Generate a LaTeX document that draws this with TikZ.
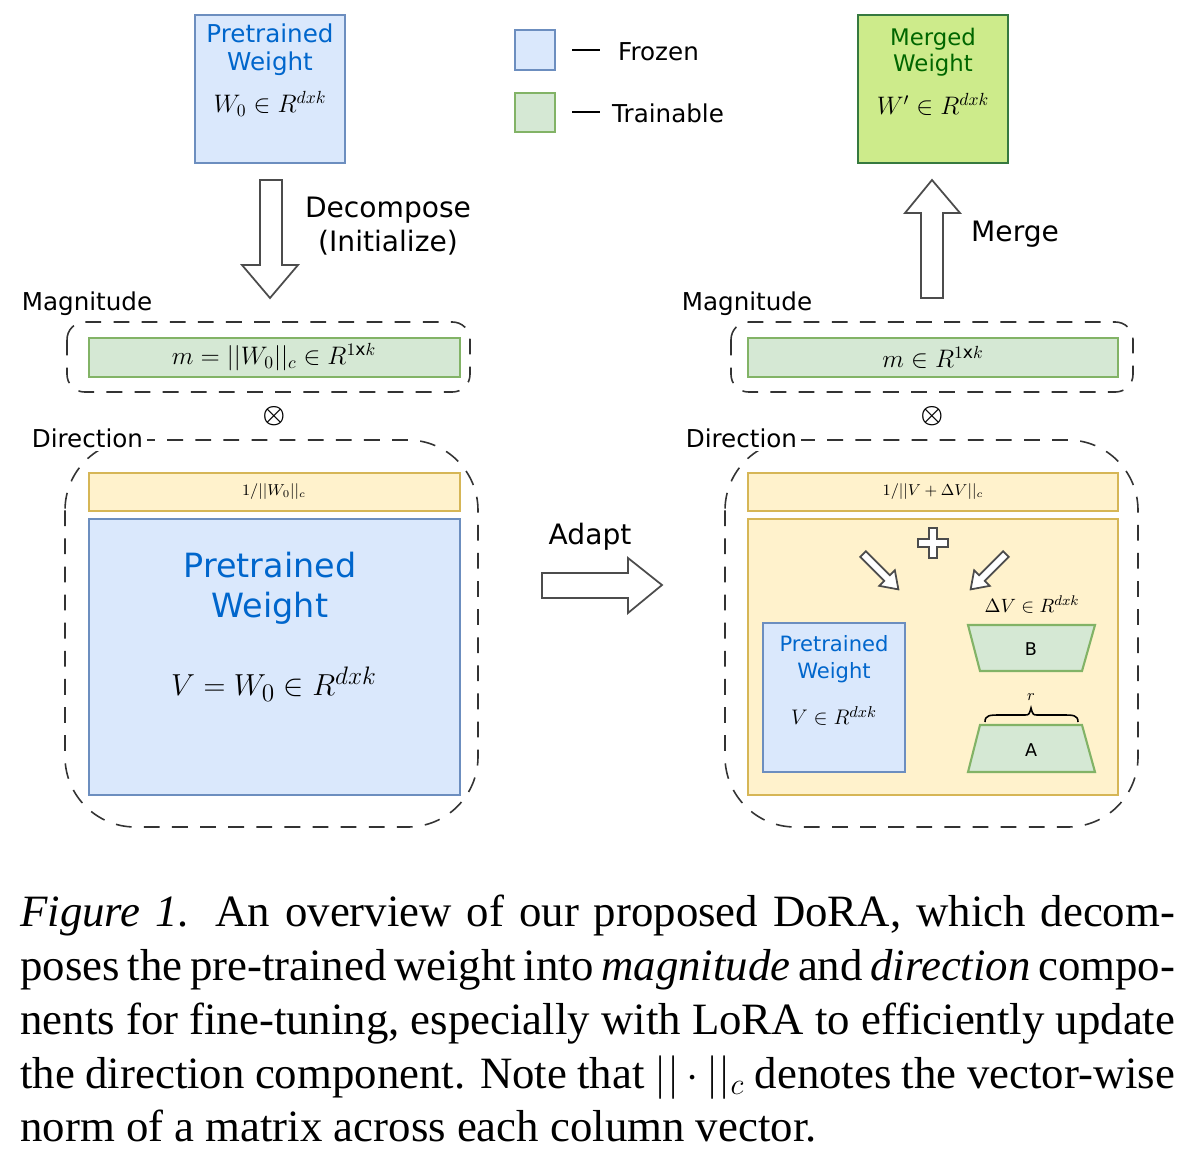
\documentclass[tikz,border=0pt]{standalone}
\usepackage{fontspec,amsmath}
\setmainfont{DejaVu Sans}
\newfontfamily\capfont{Liberation Serif}
\usetikzlibrary{positioning,calc}

\definecolor{frozenfill}{HTML}{DAE8FC}
\definecolor{frozenline}{HTML}{6C8EBF}
\definecolor{trainfill}{HTML}{D5E8D4}
\definecolor{trainline}{HTML}{82B366}
\definecolor{normfill}{HTML}{FFF2CC}
\definecolor{normline}{HTML}{D6B656}
\definecolor{mergefill}{HTML}{CDEB8B}
\definecolor{mergeline}{HTML}{36793F}
\definecolor{bluetext}{HTML}{0066CC}
\definecolor{greentext}{HTML}{006600}

\tikzset{
  frozen/.style={draw=frozenline,fill=frozenfill,line width=1.2pt},
  trainable/.style={draw=trainline,fill=trainfill,line width=1.2pt},
  normbox/.style={draw=normline,fill=normfill,line width=1.2pt},
  group/.style={draw=black!80,dashed,dash pattern=on 9pt off 7pt,line width=0.9pt},
  blockarrow/.style={draw=black!70,fill=white,line width=1pt,line join=miter},
  lbl/.style={fill=white,inner sep=2pt,font=\fontsize{14}{16}\selectfont},
}

\begin{document}
\begin{tikzpicture}[x=0.02cm,y=-0.02cm]
  \useasboundingbox (0,0) rectangle (1196,1174);

  % top row
  \draw[frozen] (195,15) rectangle (345,163);
  \node[align=center,text=bluetext,font=\fontsize{14}{16}\selectfont] (pw) at (270,50) {Pretrained\\Weight};
  \node[font=\fontsize{14}{16}\selectfont] (w0) at (270,104) {$W_0\in R^{dxk}$};

  \draw[frozen] (515,30) rectangle (555,70);
  \draw[trainable] (515,93) rectangle (555,132);
  \draw[line width=1.6pt] (572,50) -- (600,50);
  \draw[line width=1.6pt] (572,112) -- (600,112);
  \node[anchor=west,font=\fontsize{14}{16}\selectfont] (frz) at (612,52) {Frozen};
  \node[anchor=west,font=\fontsize{14}{16}\selectfont] (trn) at (606,113) {Trainable};

  \draw[line width=1.2pt,draw=mergeline,fill=mergefill] (858,15) rectangle (1008,163);
  \node[align=center,text=greentext,font=\fontsize{13}{15}\selectfont] (mw) at (933,52) {Merged\\Weight};
  \node[font=\fontsize{14}{16}\selectfont] (wp) at (933,104) {$W'\in R^{dxk}$};

  % decompose / merge arrows
  \draw[blockarrow] (260,180) -- (282,180) -- (282,265) -- (298,265) -- (270,298)
    -- (242,265) -- (260,265) -- cycle;
  \node[align=center,font=\fontsize{16}{19}\selectfont] (dec) at (388,226) {Decompose\\(Initialize)};
  \draw[blockarrow] (921,298) -- (943,298) -- (943,213) -- (960,213) -- (932,180)
    -- (905,213) -- (921,213) -- cycle;
  \node[anchor=west,font=\fontsize{16}{19}\selectfont] (mrg) at (965,234) {Merge};

  % left side
  \draw[group,rounded corners=10pt] (67,322) rectangle (470,392);
  \node[lbl,anchor=west] (magl) at (18,304) {Magnitude};
  \draw[trainable] (89,338) rectangle (460,377);
  \node[font=\fontsize{14}{16}\selectfont] (ml) at (274,357) {$m=||W_0||_c\in R^{1\mathrm{x}k}$};
  \node[font=\Large] (xl) at (274,416) {$\boldsymbol{\otimes}$};
  \draw[group,rounded corners=40pt] (65,440) rectangle (478,827);
  \node[lbl,anchor=west] (dirl) at (28,438) {Direction};
  \draw[normbox] (89,473) rectangle (460,511);
  \node[font=\small] (nl) at (274,492) {$1/||W_0||_c$};
  \draw[frozen] (89,519) rectangle (460,795);
  \node[align=center,text=bluetext,font=\fontsize{19}{23}\selectfont] (bpw) at (270,588) {Pretrained\\Weight};
  \node[font=\fontsize{19}{22}\selectfont] (vl) at (274,684) {$V=W_0\in R^{dxk}$};

  % adapt
  \draw[blockarrow] (542,573) -- (628,573) -- (628,558) -- (662,585) -- (628,613)
    -- (628,598) -- (542,598) -- cycle;
  \node[font=\fontsize{16}{19}\selectfont] (adp) at (590,537) {Adapt};

  % right side
  \draw[group,rounded corners=10pt] (731,322) rectangle (1133,392);
  \node[lbl,anchor=west] (magr) at (678,304) {Magnitude};
  \draw[trainable] (748,338) rectangle (1118,377);
  \node[font=\fontsize{14}{16}\selectfont] (mr) at (933,357) {$m\in R^{1\mathrm{x}k}$};
  \node[font=\Large] (xr) at (932,416) {$\boldsymbol{\otimes}$};
  \draw[group,rounded corners=40pt] (725,440) rectangle (1138,827);
  \node[lbl,anchor=west] (dirr) at (682,438) {Direction};
  \draw[normbox] (748,473) rectangle (1118,511);
  \node[font=\small] (nr) at (933,492) {$1/||V+\Delta V||_c$};
  \draw[normbox] (748,519) rectangle (1118,795);
  \draw[frozen] (763,623) rectangle (905,772);
  \node[align=center,text=bluetext,font=\fontsize{12}{15}\selectfont] (spw) at (834,659) {Pretrained\\Weight};
  \node[font=\fontsize{13}{15}\selectfont] (sv) at (834,716) {$V\in R^{dxk}$};
  \draw[trainable] (968,625) -- (1095,625) -- (1082,671) -- (980,671) -- cycle;
  \node (bb) at (1031,649) {B};
  \draw[trainable] (980,725) -- (1082,725) -- (1095,772) -- (968,772) -- cycle;
  \node (aa) at (1031,750) {A};
  \draw[line width=0.9pt] (985,722) .. controls (985,715) and (990,715) .. (1000,715)
    -- (1024,715) .. controls (1029,715) .. (1031,708)
    .. controls (1033,715) .. (1038,715) -- (1063,715)
    .. controls (1073,715) and (1078,715) .. (1078,722);
  \node[font=\small] (rr) at (1031,697) {$r$};
  \node[font=\fontsize{11}{13}\selectfont] (dv) at (1032,604) {$\Delta V\in R^{dxk}$};
  % plus
  \draw[blockarrow] (929,528) -- (937,528) -- (937,539) -- (948,539) -- (948,547) -- (937,547)
    -- (937,558) -- (929,558) -- (929,547) -- (918,547) -- (918,539) -- (929,539) -- cycle;
  \coordinate (plus) at (933,543);
  % small arrows
  \begin{scope}[shift={(880,571)},rotate=-45]
    \draw[blockarrow] (-24,-4) -- (10,-4) -- (10,-11) -- (26,0) -- (10,11) -- (10,4) -- (-24,4) -- cycle;
  \end{scope}
  \begin{scope}[shift={(989,571)},rotate=-135]
    \draw[blockarrow] (-24,-4) -- (10,-4) -- (10,-11) -- (26,0) -- (10,11) -- (10,4) -- (-24,4) -- cycle;
  \end{scope}

  % caption
  \node[anchor=north west,inner sep=0pt,text width=23.1cm,align=justify,
        font=\capfont\fontsize{25.5}{30.6}\selectfont] (cap) at (20,895)
    {\textit{Figure 1.} An overview of our proposed DoRA, which decomposes the pre-trained weight into \textit{magnitude} and \textit{direction} components for fine-tuning, especially with LoRA to efficiently update the direction component. Note that $||\cdot||_c$ denotes the vector-wise norm of a matrix across each column vector.};
\end{tikzpicture}
\end{document}
